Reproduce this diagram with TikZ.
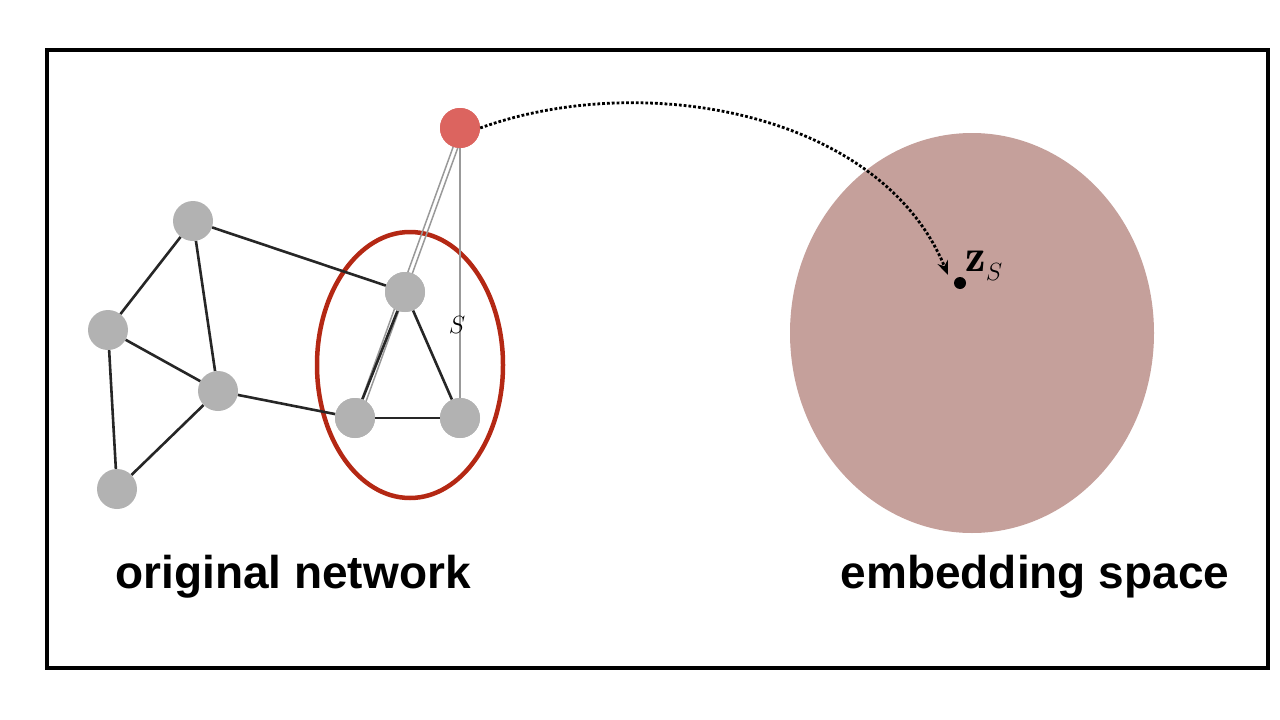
\documentclass[tikz,border=0pt]{standalone}
\usepackage{fontspec}
\setsansfont{Liberation Sans}
\usetikzlibrary{arrows.meta}
\definecolor{blob}{RGB}{197,160,155}
\definecolor{ring}{RGB}{180,40,20}
\definecolor{rfill}{RGB}{220,100,95}
\begin{document}
\begin{tikzpicture}[x=1pt,y=-1pt,
  gnode/.style={circle,fill=gray!60,minimum size=40pt,inner sep=0pt},
  rnode/.style={circle,fill=rfill,minimum size=40pt,inner sep=0pt},
  edge/.style={line width=2.6pt,black!85},
  thinedge/.style={line width=1.5pt,gray!80},
  lbl/.style={font=\sffamily\bfseries\fontsize{46}{52}\selectfont}]
\useasboundingbox (0,0) rectangle (1280,720);
\draw[line width=4pt] (47,50) rectangle (1268,668);
\fill[blob] (972,333) ellipse [x radius=182, y radius=200];
\draw[line width=4.5pt,ring] (410,365) ellipse [x radius=93, y radius=133];
\node[gnode] (n1) at (193,221) {};
\node[gnode] (n2) at (108,330) {};
\node[gnode] (n3) at (218,391) {};
\node[gnode] (n4) at (117,489) {};
\node[gnode] (m) at (405,292) {};
\node[gnode] (bl) at (355,418) {};
\node[gnode] (br) at (460,418) {};
\node[rnode] (r) at (460,128) {};
\draw[thinedge] (r.center) -- (bl.center);
\draw[thinedge] ([xshift=5pt]r.center) -- ([xshift=5pt]bl.center);
\draw[thinedge] (r.center) -- (br.center);
\draw[edge] (n1) -- (n2);
\draw[edge] (n1) -- (n3);
\draw[edge] (n2) -- (n3);
\draw[edge] (n2) -- (n4);
\draw[edge] (n4) -- (n3);
\draw[edge] (n1) -- (m);
\draw[edge] (n3) -- (bl);
\draw[edge] (m) -- (bl);
\draw[edge] (m) -- (br);
\draw[edge] (bl) -- (br);
\node[gnode] at (m) {};
\node[gnode] at (bl) {};
\node[gnode] at (br) {};
\node[rnode] at (r) {};
\node[font=\fontsize{46}{50}\selectfont] (s) at (457,325) {$S$};
\fill (960,283) circle (6pt);
\node[font=\fontsize{46}{50}\selectfont,anchor=west] (zl) at (962,266) {$\mathbf{z}_S$};
\draw[line width=2.8pt,dotted,-{Stealth[length=14pt,width=11pt]}] (r.east) .. controls (640,70) and (880,110) .. (948,275);
\node[lbl] (t1) at (293,577) {original network};
\node[lbl] (t2) at (1035,577) {embedding space};
\end{tikzpicture}
\end{document}
